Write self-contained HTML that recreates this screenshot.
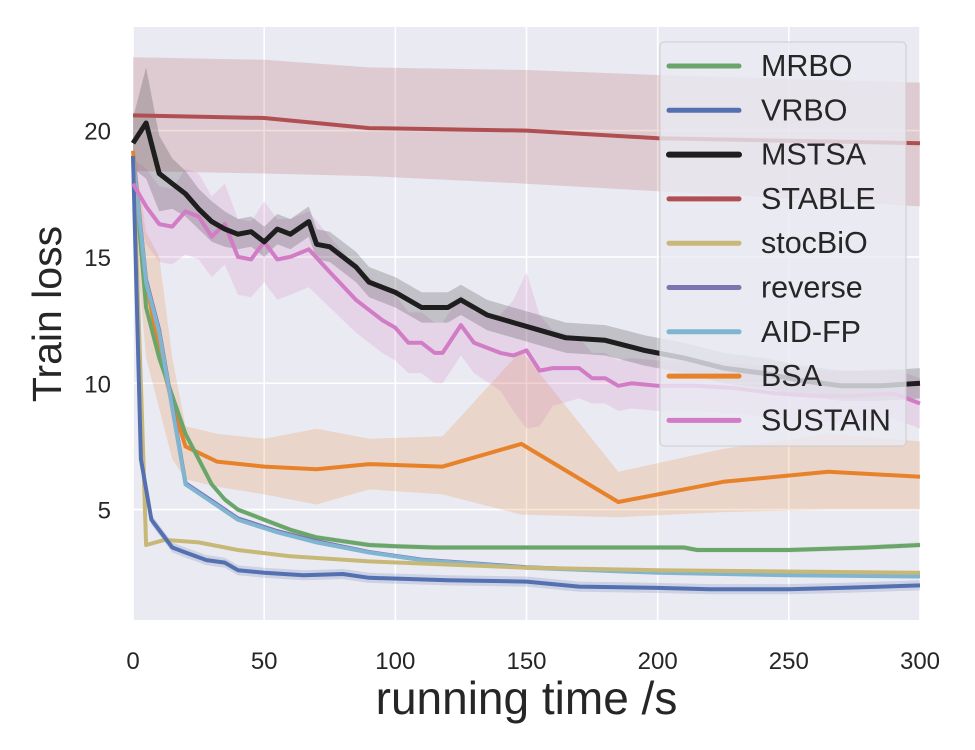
<!DOCTYPE html>
<html><head><meta charset="utf-8">
<style>
html,body{margin:0;padding:0;background:#fff;}
svg{display:block;font-family:"Liberation Sans","DejaVu Sans",sans-serif;}
</style></head>
<body>
<svg id="chart" width="975" height="750" viewBox="0 0 975 750" xmlns="http://www.w3.org/2000/svg"></svg>
<script>
const xTicks=[0,50,100,150,200,250,300];
const yTicks=[5,10,15,20];
const seriesNames=["MRBO","VRBO","MSTSA","STABLE","stocBiO","reverse","AID-FP","BSA","SUSTAIN"];
const seriesColors=["#6aa66a","#5470b0","#1e1e1e","#b04f51","#c8b878","#7f74b2","#7fb5d0","#e8822a","#d17cc4"];
const stableT=[0,50,90,150,200,300];
const stableY=[20.6,20.5,20.1,20.0,19.7,19.5];
const stableHi=[22.9,22.8,22.5,22.4,22.2,21.9];
const stableLo=[18.4,18.3,18.2,17.9,17.6,17.0];
const mstsaT=[0,5,10,15,20,25,30,35,40,45,50,55,60,67,70,75,85,90,100,110,120,125,135,145,155,165,180,195,210,225,240,255,270,285,300];
const mstsaY=[19.5,20.3,18.3,17.9,17.5,16.9,16.4,16.1,15.9,16.0,15.6,16.1,15.9,16.4,15.5,15.4,14.6,14.0,13.6,13.0,13.0,13.3,12.7,12.4,12.1,11.8,11.7,11.3,11.0,10.6,10.4,10.1,9.9,9.9,10.0];
const mstsaW=[1.0,2.2,1.5,1.0,0.9,0.8,0.8,0.7,0.6,0.6,0.6,0.6,0.6,0.6,0.6,0.6,0.6,0.6,0.6,0.6,0.6,0.6,0.6,0.6,0.6,0.6,0.6,0.6,0.6,0.6,0.6,0.6,0.6,0.6,0.6];
const sustainT=[0,5,10,15,20,25,30,35,40,45,50,55,60,67,75,85,95,100,105,110,115,118,125,130,140,145,150,155,160,170,175,180,185,190,200,215,230,245,260,275,290,300];
const sustainY=[17.9,17.0,16.3,16.2,16.8,16.6,15.8,16.3,15.0,14.9,15.6,14.9,15.0,15.3,14.4,13.3,12.5,12.2,11.6,11.6,11.2,11.2,12.3,11.6,11.2,11.1,11.3,10.5,10.6,10.6,10.2,10.2,9.9,10.0,9.9,9.9,9.8,9.6,9.5,9.5,9.6,9.2];
const sustainW=[1.0,1.5,1.5,1.5,1.7,1.7,1.6,1.6,1.5,1.5,1.6,1.6,1.5,1.5,1.4,1.3,1.3,1.3,1.2,1.2,1.2,1.2,1.2,1.2,1.5,2.2,3.1,2.2,1.5,1.2,1.0,1.0,1.0,1.0,1.0,1.0,1.0,1.0,1.0,1.0,1.0,1.0];
const bsaT=[0,5,10,15,20,32,50,70,90,118,148,185,225,265,300];
const bsaY=[19.2,14.0,11.3,9.2,7.5,6.9,6.7,6.6,6.8,6.7,7.6,5.3,6.1,6.5,6.3];
const bsaHi=[19.4,16.0,15.0,11.0,8.3,8.0,7.8,8.2,7.8,7.9,11.3,6.5,7.4,8.0,7.7];
const bsaLo=[17.0,11.0,9.0,7.0,6.2,5.9,5.6,5.2,5.8,5.6,4.8,4.7,4.9,5.0,5.0];
const mrboT=[0,5,10,15,20,25,30,35,40,50,60,70,80,90,100,115,130,150,180,210,215,250,280,300];
const mrboY=[19.0,13.0,11.0,9.5,8.0,7.0,6.0,5.4,5.0,4.6,4.2,3.9,3.75,3.6,3.55,3.5,3.5,3.5,3.5,3.5,3.4,3.4,3.5,3.6];
const aidT=[0,5,10,15,20,30,40,55,70,90,110,150,200,250,300];
const aidY=[19.0,14.0,12.0,9.0,6.0,5.3,4.6,4.1,3.7,3.3,3.0,2.7,2.5,2.4,2.35];
const reverseY=[19.0,14.1,12.1,9.1,6.05,5.35,4.65,4.15,3.75,3.32,3.02,2.72,2.52,2.42,2.4];
const stocT=[0,3,5,12,25,40,60,90,150,200,300];
const stocY=[19.0,10.0,3.6,3.8,3.7,3.4,3.15,2.95,2.7,2.6,2.5];
const vrboT=[0,3,7,15,20,28,35,40,50,65,80,90,120,150,170,200,220,250,270,300];
const vrboY=[19.0,7.0,4.6,3.5,3.3,3.0,2.9,2.6,2.5,2.4,2.45,2.3,2.2,2.15,1.95,1.9,1.85,1.85,1.9,2.0];

const L=133,R=920,T=27,B=620;
const X0=0,X1=300,Y0=0.63,Y1=24.1;
const sx=v=>L+(v-X0)/(X1-X0)*(R-L);
const sy=v=>B-(v-Y0)/(Y1-Y0)*(B-T);
const NS="http://www.w3.org/2000/svg";
const svg=document.getElementById('chart');
function mk(tag,attrs,parent){const e=document.createElementNS(NS,tag);for(const k in attrs)e.setAttribute(k,attrs[k]);(parent||svg).appendChild(e);return e;}

const bg=mk('rect',{x:L,y:T,width:R-L,height:B-T,fill:'#eaeaf2'});


xTicks.forEach(t=>{
  const g=mk('line',{x1:sx(t),x2:sx(t),y1:T,y2:B,stroke:'#fff','stroke-width':1.6});
  
  
  const lb=mk('text',{x:sx(t),y:B+49,'text-anchor':'middle','font-size':24,fill:'#262626'});
  lb.textContent=t;
  
  
});
yTicks.forEach(t=>{
  const g=mk('line',{x1:L,x2:R,y1:sy(t),y2:sy(t),stroke:'#fff','stroke-width':1.6});
  
  
  const lb=mk('text',{x:L-22,y:sy(t)+9,'text-anchor':'end','font-size':24,fill:'#262626'});
  lb.textContent=t;
  
  
});

function band(ts,lo,hi,color,op,name){
  let d='';
  ts.forEach((t,i)=>{d+=(i?'L':'M')+sx(t).toFixed(1)+','+sy(hi[i]).toFixed(1);});
  for(let i=ts.length-1;i>=0;i--)d+='L'+sx(ts[i]).toFixed(1)+','+sy(lo[i]).toFixed(1);
  const p=mk('path',{d:d+'Z',fill:color,'fill-opacity':op,stroke:'none'});
  
  
}
function line(ts,ys,color,w,name){
  const d=ts.map((t,i)=>(i?'L':'M')+sx(t).toFixed(1)+','+sy(ys[i]).toFixed(1)).join('');
  const p=mk('path',{d:d,fill:'none',stroke:color,'stroke-width':w,'stroke-linejoin':'round','stroke-linecap':'butt'});
  
  
}
const plus=(a,w)=>a.map((v,i)=>v+w[i]);
const minus=(a,w)=>a.map((v,i)=>v-w[i]);
const c=seriesColors;
band(stableT,stableLo,stableHi,c[3],0.2,'stable-band');
band(bsaT,bsaLo,bsaHi,c[7],0.2,'bsa-band');
band(sustainT,minus(sustainY,sustainW),plus(sustainY,sustainW),c[8],0.2,'sustain-band');
band(mstsaT,minus(mstsaY,mstsaW),plus(mstsaY,mstsaW),c[2],0.2,'mstsa-band');
band(vrboT,vrboY.map(v=>v-0.2),vrboY.map(v=>v+0.2),c[1],0.2,'vrbo-band');
band(mrboT,mrboY.map(v=>v-0.1),mrboY.map(v=>v+0.1),c[0],0.2,'mrbo-band');

line(stableT,stableY,c[3],4,'stable-line');
line(bsaT,bsaY,c[7],4,'bsa-line');
line(mrboT,mrboY,c[0],4,'mrbo-line');
line(aidT,reverseY,c[5],4,'reverse-line');
line(aidT,aidY,c[6],4,'aid-fp-line');
line(stocT,stocY,c[4],4,'stocbio-line');
line(vrboT,vrboY,c[1],4,'vrbo-line');
line(sustainT,sustainY,c[8],4,'sustain-line');
line(mstsaT,mstsaY,c[2],5,'mstsa-line');

const lg=mk('g',{});


const lbox=mk('rect',{x:660,y:42,width:246,height:404,rx:4,fill:'#eaeaf2','fill-opacity':0.8,stroke:'#cccccc','stroke-width':1},lg);


seriesNames.forEach((n,i)=>{
  const y=66+i*44.3;
  const ln=mk('line',{x1:669,x2:739,y1:y,y2:y,stroke:c[i],'stroke-width':i==2?6:5,'stroke-linecap':'round'},lg);
  
  
  const tx=mk('text',{x:761,y:y+10,'font-size':30.5,fill:'#262626'},lg);
  tx.textContent=n;
  
  
});

const xt=mk('text',{x:(L+R)/2,y:714,'text-anchor':'middle','font-size':46,fill:'#262626'});
xt.textContent='running time /s';


const yt=mk('text',{x:0,y:0,'text-anchor':'middle','font-size':41,fill:'#262626',transform:'translate(61,314) rotate(-90)'});
yt.textContent='Train loss';


</script>
</body></html>
